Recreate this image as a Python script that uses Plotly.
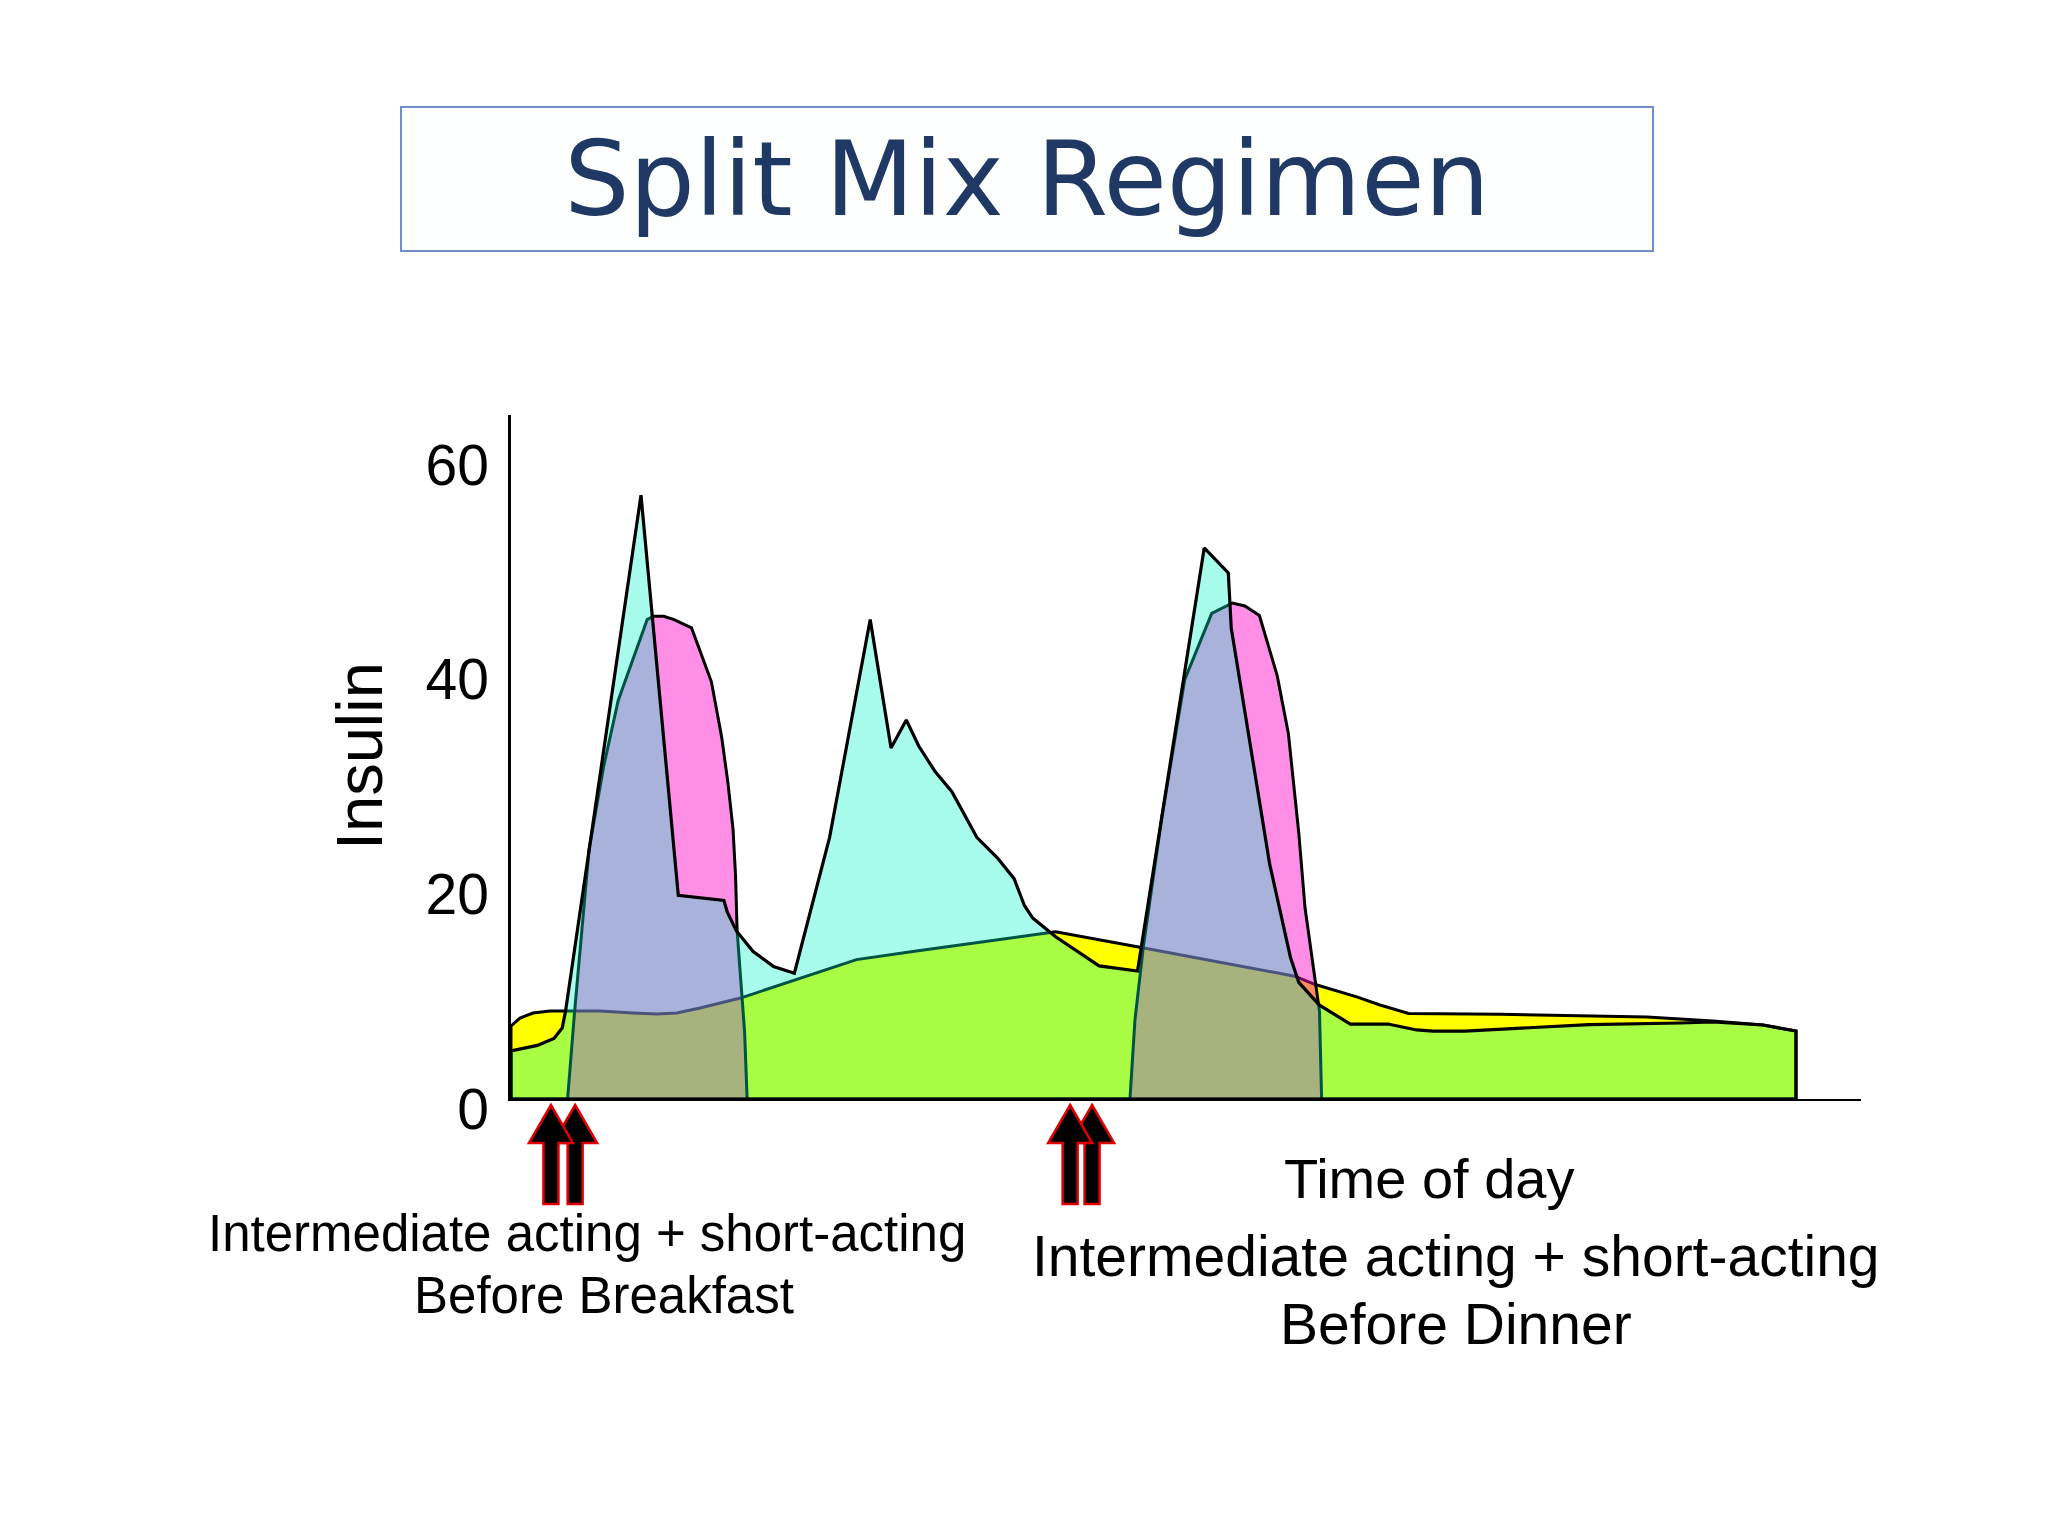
import plotly.graph_objects as go

# ---------------- data ----------------
# time axis in hours (arbitrary origin at the start of the day shown), insulin in units
total_hours = [0, 0.468, 0.763, 0.910, 0.969, 2.311, 2.974, 3.785, 3.844, 4.005, 4.300,
               4.668, 5.038, 5.664, 6.386, 6.756, 7.028, 7.248, 7.543, 7.838, 8.281,
               8.649, 8.944, 9.129, 9.276, 9.682, 10.455, 11.138, 12.324, 12.752, 12.804,
               13.488, 13.858, 14.005, 14.373, 14.921, 15.591, 16.101, 16.391, 16.96,
               19.164, 20.782, 21.369, 22.258, 22.844]
total_insulin = [4.47, 4.99, 5.64, 6.61, 8.16, 56.23, 18.97, 18.50, 17.42, 15.68, 13.75,
                 12.33, 11.71, 24.37, 44.65, 32.68, 35.30, 32.87, 30.47, 28.62, 24.37,
                 22.44, 20.52, 18.00, 16.85, 15.11, 12.40, 11.92, 51.32, 49.00, 43.87,
                 21.87, 13.18, 10.86, 8.74, 6.98, 6.98, 6.43, 6.33, 6.33,
                 6.92, 7.08, 7.17, 6.89, 6.33]

intermediate_hours = [0, 0.16, 0.391, 0.693, 0.996, 1.582, 2.169, 2.596, 2.951, 3.36, 4.08,
                      4.964, 6.142, 7.175, 9.682, 11.156, 13.931, 14.299, 15.036, 15.449,
                      15.957, 17.582, 19.164, 20.196, 21.369, 22.258, 22.844]
intermediate_insulin = [6.80, 7.54, 8.01, 8.20, 8.20, 8.20, 8.01, 7.92, 8.01, 8.47, 9.40,
                        10.93, 12.98, 13.76, 15.57, 14.15, 11.44, 10.66, 9.51, 8.75,
                        7.96, 7.89, 7.78, 7.64, 7.26, 6.89, 6.33]

breakfast_short_hours = [1.006, 1.131, 1.388, 1.646, 1.906, 2.421, 2.532, 2.716, 2.900, 3.209,
                         3.563, 3.747, 3.858, 3.947, 3.991, 4.020, 4.153, 4.198]
breakfast_short_insulin = [0, 8.16, 23.22, 30.94, 37.11, 44.65, 44.95, 44.95, 44.65, 43.87,
                           38.85, 33.64, 29.39, 25.14, 20.90, 15.68, 6.23, 0]

dinner_short_hours = [11.004, 11.093, 11.241, 11.573, 11.977, 12.457, 12.825, 13.047, 13.305,
                      13.621, 13.820, 13.931, 14.005, 14.116, 14.299, 14.373, 14.411]
dinner_short_insulin = [0, 7.38, 14.15, 26.30, 39.05, 45.22, 46.19, 45.92, 45.03,
                        39.43, 34.03, 28.62, 24.76, 17.81, 10.66, 8.16, 0]

dose_hours = [0.71, 1.14, 9.94, 10.33]

y_ticks = [0, 20, 40, 60]
y_tick_labels = ["0", "20", "40", "60"]

title_text = "Split Mix Regimen"
y_label = "Insulin"
x_label = "Time of day"
breakfast_lines = ["Intermediate acting + short-acting", "Before Breakfast"]
dinner_lines = ["Intermediate acting + short-acting", "Before Dinner"]

# ---------------- layout geometry ----------------
W, H = 2048, 1536
PL, PR, PT, PB = 511, 1861, 415, 1099   # plot area in pixels
X_RANGE = [0, 24]
Y_RANGE = [0, 63.7]


def paper(px, py):
    return (px - PL) / (PR - PL), (PB - py) / (PB - PT)


def closed_area(xs, ys):
    return [xs[0]] + list(xs) + [xs[-1], xs[0]], [0] + list(ys) + [0, 0]


ARIAL = "Liberation Sans, Arial, sans-serif"
VERDANA = "DejaVu Sans, Verdana, sans-serif"

fig = go.Figure()

# intermediate-acting profile (opaque yellow)
ix, iy = closed_area(intermediate_hours, intermediate_insulin)
fig.add_trace(go.Scatter(x=ix, y=iy, mode="lines", fill="toself",
                         fillcolor="#FFFF00", line=dict(color="black", width=3),
                         hoverinfo="skip"))

# short-acting profiles (translucent magenta)
for hx, hy in [(breakfast_short_hours, breakfast_short_insulin),
               (dinner_short_hours, dinner_short_insulin)]:
    fig.add_trace(go.Scatter(x=hx, y=hy, mode="lines", fill="toself",
                             fillcolor="rgba(255,0,198,0.44)",
                             line=dict(color="black", width=3), hoverinfo="skip"))

# total insulin profile (translucent cyan)
tx, ty = closed_area(total_hours, total_insulin)
fig.add_trace(go.Scatter(x=tx, y=ty, mode="lines", fill="toself",
                         fillcolor="rgba(0,246,199,0.34)",
                         line=dict(color="black", width=3.2), hoverinfo="skip"))

# injection arrows (drawn right one first so the left one overlaps it)
arrow_path = "M0,-6 L22,-44 L7.5,-44 L7.5,-105 L-7.5,-105 L-7.5,-44 L-22,-44 Z"
shapes = []
for pair in [(dose_hours[0], dose_hours[1]), (dose_hours[2], dose_hours[3])]:
    for t in (pair[1], pair[0]):
        shapes.append(dict(type="path", xref="x", yref="paper",
                           xsizemode="pixel", ysizemode="pixel",
                           xanchor=t, yanchor=0, path=arrow_path,
                           fillcolor="black", line=dict(color="#E00000", width=2.5),
                           layer="above"))

annotations = []
# title box
bx, by = paper((400 + 1654) / 2, (106 + 252) / 2)
annotations.append(dict(xref="paper", yref="paper", x=bx, y=by, xanchor="center",
                        yanchor="middle", text=title_text, showarrow=False,
                        width=1250, height=142, borderpad=0, borderwidth=2,
                        bordercolor="#6F8FC8", bgcolor="#FDFEFE",
                        font=dict(family=VERDANA, size=103, color="#1F3864")))
# y label
lx, ly = paper(359, 756)
annotations.append(dict(xref="paper", yref="paper", x=lx, y=ly, xanchor="center",
                        yanchor="middle", text=y_label, textangle=-90, showarrow=False,
                        font=dict(family=ARIAL, size=65, color="black")))


def add_text(txt, cx, baseline, size):
    ax_, ay_ = paper(cx, baseline - 0.3465 * size)
    annotations.append(dict(xref="paper", yref="paper", x=ax_, y=ay_, xanchor="center",
                            yanchor="middle", text=txt, showarrow=False,
                            font=dict(family=ARIAL, size=size, color="black")))


add_text(breakfast_lines[0], 587, 1251, 51)
add_text(breakfast_lines[1], 604, 1313, 51)
add_text(x_label, 1429, 1198, 56)
add_text(dinner_lines[0], 1456, 1276, 57)
add_text(dinner_lines[1], 1456, 1344, 57)

fig.update_layout(
    width=W, height=H, autosize=False,
    margin=dict(l=PL, r=W - PR, t=PT, b=H - PB, pad=0),
    paper_bgcolor="white", plot_bgcolor="white",
    showlegend=False, hovermode=False,
    shapes=shapes, annotations=annotations,
    xaxis=dict(range=X_RANGE, showgrid=False, zeroline=False, showticklabels=False,
               ticks="", showline=True, linecolor="black", linewidth=2, fixedrange=True),
    yaxis=dict(range=Y_RANGE, showgrid=False, zeroline=False, ticks="",
               tickvals=y_ticks, ticktext=y_tick_labels,
               tickfont=dict(family=ARIAL, size=57, color="black"),
               ticklabelstandoff=8, ticklabelshift=10,
               showline=True, linecolor="black", linewidth=2.5, fixedrange=True),
)

fig.write_html("out.html")
